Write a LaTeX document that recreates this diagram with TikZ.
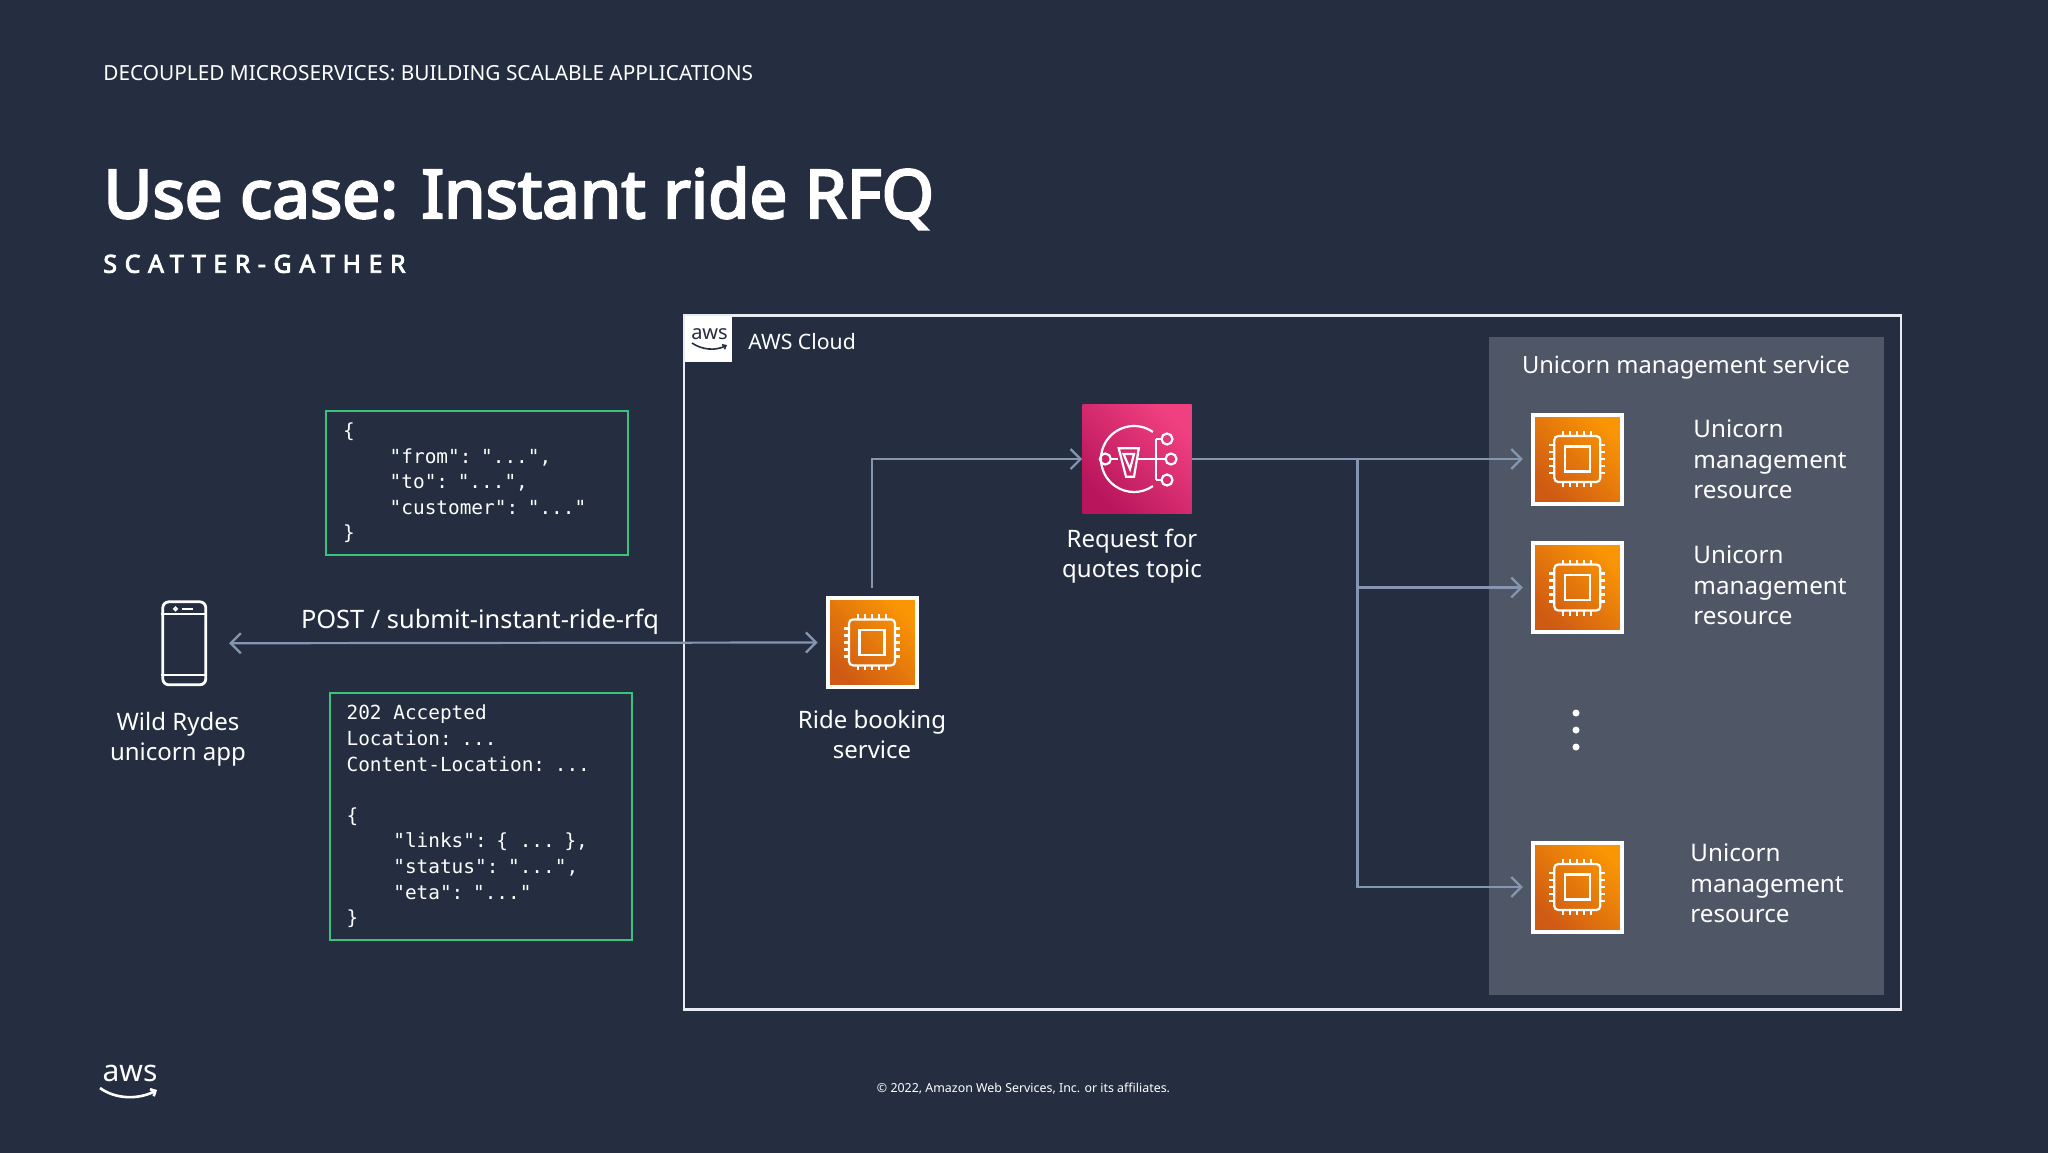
\documentclass[tikz,border=0pt]{standalone}
\usepackage{fontspec}
\setmainfont{Noto Sans}
\setmonofont{DejaVu Sans Mono}[Kerning=Off]
\newfontfamily\heavyfont{Noto Sans}[FakeBold=3.5]
\usetikzlibrary{arrows.meta,calc}
\definecolor{slide}{HTML}{242E40}
\definecolor{panel}{HTML}{4F5766}
\definecolor{wire}{HTML}{8496B0}
\definecolor{frame}{HTML}{E8ECF2}
\definecolor{json}{HTML}{3CC27C}
\definecolor{chipdark}{HTML}{CF5A14}
\definecolor{chiplight}{HTML}{FA9504}
\definecolor{topicdark}{HTML}{B8155C}
\definecolor{topiclight}{HTML}{F04080}
\newcommand{\jind}{\phantom{xxxx}}

\begin{document}
\begin{tikzpicture}
[
x=0.5pt, y=-0.5pt, >={Straight Barb[length=5pt,width=10pt]},
text=white,
caption/.style  = {inner sep=0pt, align=center, font=\fontsize{12}{15}\selectfont},
leftcaption/.style = {inner sep=0pt, align=left, font=\fontsize{12.1}{15.4}\selectfont},
flow/.style     = {draw=wire, line width=1.1pt},
chipbox/.style  = {draw=white, line width=2pt, minimum size=44.5pt, inner sep=0pt, shading=axis, left color=chipdark, right color=chiplight, shading angle=135},
topicbox/.style = {minimum size=54.5pt, inner sep=0pt, shading=axis, left color=topicdark, right color=topiclight, shading angle=135},
jsonbox/.style  = {draw=json, line width=1pt, inner xsep=8.5pt, inner ysep=0pt, align=left, font=\ttfamily\fontsize{9.7}{12.8}\selectfont, execute at begin node={\spaceskip=.602em}},
chip/.pic = {
  \draw[white, line width=1.1pt, rounded corners=2pt] (-23,-23) rectangle (23,23);
  \draw[white, line width=1.1pt] (-12.5,-12.5) rectangle (12.5,12.5);
  \foreach \t in {-14,-7,0,7,14} {
    \draw[white, line width=1.1pt] (\t,-23) -- (\t,-28);
    \draw[white, line width=1.1pt] (\t,23) -- (\t,28);
    \draw[white, line width=1.1pt] (-23,\t) -- (-28,\t);
    \draw[white, line width=1.1pt] (23,\t) -- (28,\t);
  }
},
topicicon/.pic = {
  \draw[white, line width=1.1pt] (-3,0) ++(-55:33) arc[start angle=-55, end angle=-305, radius=33];
  \draw[white, line width=1.1pt] (-31.7,0) circle (5.5);
  \draw[white, line width=1.1pt] (-26,0) -- (-19,0);
  \draw[white, line width=1.1pt] (-18.3,-10.7) -- (1.8,-10.7) -- (-3,17.7) -- (-11,17.7) -- cycle;
  \draw[white, line width=1.1pt] (-13.5,-5) -- (-3,-5) -- (-7,10) -- cycle;
  \draw[white, line width=1.1pt] (1,0) -- (28.5,0);
  \draw[white, line width=1.1pt] (18.7,-20) -- (18.7,21);
  \draw[white, line width=1.1pt] (18.7,-20) -- (24.5,-20);
  \draw[white, line width=1.1pt] (18.7,21) -- (24.5,21);
  \draw[white, line width=1.1pt] (30,-20) circle (5.5);
  \draw[white, line width=1.1pt] (34,0) circle (5.5);
  \draw[white, line width=1.1pt] (30,21) circle (5.5);
},
]
\useasboundingbox (0,0) rectangle (2048,1152);
\fill[slide] (-4,-4) rectangle (2052,1156);

\node at (103,80)[anchor=base west,inner sep=0pt,font=\fontsize{10.4}{12}\selectfont] (kicker) {DECOUPLED MICROSERVICES: BUILDING SCALABLE APPLICATIONS};
\node at (103,218)[anchor=base west,inner sep=0pt,font=\heavyfont\fontsize{33.6}{38}\selectfont] (title) {Use case: Instant ride RFQ};
\node at (103,272.7)[anchor=base west,inner sep=0pt,font=\heavyfont\fontsize{12.4}{14}\selectfont\addfontfeature{LetterSpace=31}] (subtitle) {SCATTER-GATHER};

\node at (1292.5,662.5)[draw=frame,line width=1.25pt,minimum width=608.5pt,minimum height=347pt,inner sep=0pt] (cloud) {};
\node at (708.5,339)[fill=white,minimum width=23.5pt,minimum height=23pt,inner sep=0pt] (cloudtag) {};
\node at (709.5,334)[inner sep=0pt,text=slide,font=\fontsize{10}{12}\selectfont] (cloudaws) {aws};
\draw[slide, line width=.8pt, -{Straight Barb[length=1.5pt,width=2.5pt]}] (692,343) .. controls (702,350) and (716,351) .. (727,345);
\node at (748,349.3)[anchor=base west,inner sep=0pt,font=\fontsize{10.6}{14}\selectfont] (cloudlabel) {AWS Cloud};

\node at (1686.5,666)[fill=panel,minimum width=197.5pt,minimum height=329pt,inner sep=0pt] (service) {};
\node at (1686,373)[anchor=base,inner sep=0pt,font=\fontsize{11.85}{15}\selectfont] (servicelabel) {Unicorn management service};

\node at (477,483)[jsonbox,text width=134pt,minimum height=72pt] (request) {\{\\
\jind"from": "...",\\
\jind"to": "...",\\
\jind"customer": "..."\\
\}};
\node at (480.6,816.5)[jsonbox,text width=134pt,minimum height=123.5pt] (response) {202 Accepted\\
Location: ...\\
Content-Location: ...\\
\strut\\
\{\\
\jind"links": \{ ... \},\\
\jind"status": "...",\\
\jind"eta": "..."\\
\}};

\node at (184.3,643.3)[draw=white,line width=1.4pt,rounded corners=3pt,minimum width=21.5pt,minimum height=41.5pt,inner sep=0pt] (app) {};
\draw[white,line width=1.2pt] (app.west |- 0,614.2) -- (app.east |- 0,614.2);
\draw[white,line width=1.2pt] (app.west |- 0,674.7) -- (app.east |- 0,674.7);
\draw[white,line width=.8pt] (175.5,608.9) circle (1.7);
\draw[white,line width=1.4pt] (182.4,608.9) -- (193,608.9);
\node at (178,739)[caption] (applabel) {Wild Rydes\\unicorn app};

\node at (872,642.4)[chipbox] (ride) {};
\pic at (ride.center) {chip};
\node at (872,734)[caption] (ridelabel) {Ride booking\\service};

\node at (1137,459)[topicbox] (topic) {};
\pic at (topic.center) {topicicon};
\node at (1132,556)[caption] (topiclabel) {Request for\\quotes topic};

\node at (1577.3,459)[chipbox] (unita) {};
\pic at (unita.center) {chip};
\node at (1577.3,587.5)[chipbox] (unitb) {};
\pic at (unitb.center) {chip};
\node at (1577.3,887)[chipbox] (unitc) {};
\pic at (unitc.center) {chip};

\node at (1693,459.3)[leftcaption,anchor=west] (labela) {Unicorn\\management\\resource};
\node at (1693,585.3)[leftcaption,anchor=west] (labelb) {Unicorn\\management\\resource};
\node at (1690,883.3)[leftcaption,anchor=west] (labelc) {Unicorn\\management\\resource};

\foreach \y in {713,730,747} \node at (1576,\y)[circle,fill=white,minimum size=3.5pt,inner sep=0pt] (dots\y) {};

\node at (480,628)[anchor=base,inner sep=0pt,font=\fontsize{12.7}{15}\selectfont] (postlabel) {POST / submit-instant-ride-rfq};

\coordinate (bus) at (1357.5,459);
\draw[flow,<->,shorten <=11pt,shorten >=4pt] (app) -- (ride);
\draw[flow,->,shorten <=4pt] (ride) |- (topic);
\draw[flow,->,shorten >=4pt] (topic) -- (unita);
\draw[flow,->,shorten >=4pt] (bus) |- (unitb);
\draw[flow,->,shorten >=4pt] (bus) |- (unitc);

\node at (130,1073)[inner sep=0pt,font=\fontsize{15}{17}\selectfont] (logo) {aws};
\draw[white, line width=1.3pt, -{Straight Barb[length=2pt,width=4pt]}] (100,1088) .. controls (115,1099) and (138,1100) .. (157,1090);
\node at (1023.5,1089)[inner sep=0pt,font=\fontsize{6.2}{8}\selectfont] (copyright) {© 2022, Amazon Web Services, Inc. or its affiliates.};
\end{tikzpicture}
\end{document}
